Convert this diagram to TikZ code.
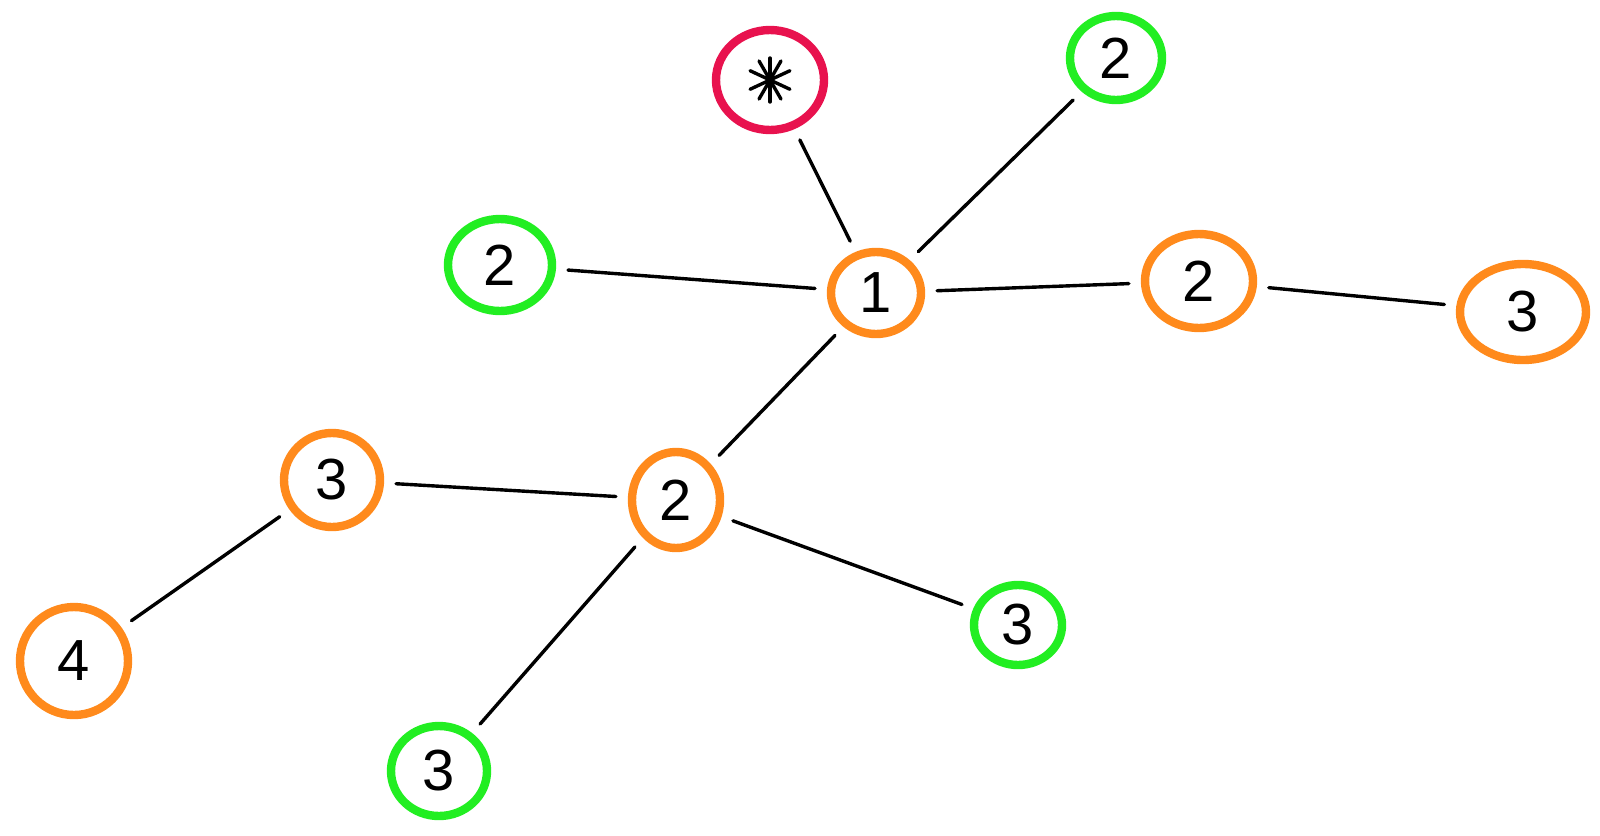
\documentclass[tikz,border=0pt]{standalone}
\usepackage{fontspec}
\setmainfont{Liberation Sans}
\usetikzlibrary{shapes.geometric}
\definecolor{orng}{HTML}{FF8A1C}
\definecolor{grn}{HTML}{22EE22}
\definecolor{redc}{HTML}{E8124E}
\begin{document}
\begin{tikzpicture}[x=0.5pt,y=-0.5pt,
  vtx/.style={ellipse,draw,line width=4.2pt,inner sep=0pt,font=\fontsize{29}{29}\selectfont},
  og/.style={vtx,draw=orng},
  gn/.style={vtx,draw=grn},
  rd/.style={vtx,draw=redc},
  starline/.style={line width=1.7pt,line cap=round,black},
  edge/.style={line width=1.7pt,line cap=round,black,shorten <=6pt,shorten >=6pt}]
\useasboundingbox (0,0) rectangle (1600,835);
\node[rd,minimum width=54pt,minimum height=50pt] (s) at (770,80) {};
\foreach \a in {90,25,155,60,120} {
  \draw[starline] ([shift={(\a:11pt)}]s.center) -- ([shift={(\a+180:11pt)}]s.center);
}
\node[gn,minimum width=46pt,minimum height=42pt] (g1) at (1116,58) {2};
\node[gn,minimum width=52pt,minimum height=46pt] (g2) at (500,265) {2};
\node[og,minimum width=45pt,minimum height=41pt] (o1) at (876,293) {1};
\node[og,minimum width=54pt,minimum height=47pt] (o2) at (1199,281) {2};
\node[og,minimum width=63pt,minimum height=48pt] (o3) at (1523,312) {3};
\node[og,minimum width=48pt,minimum height=47pt] (o4) at (332,480) {3};
\node[og,minimum width=44pt,minimum height=48pt] (o5) at (676,500) {2};
\node[og,minimum width=54pt,minimum height=54pt] (o6) at (74,661) {4};
\node[gn,minimum width=48pt,minimum height=45pt] (g3) at (439,771) {3};
\node[gn,minimum width=44pt,minimum height=40pt] (g4) at (1018,625) {3};
\draw[edge] (s) -- (o1);
\draw[edge] (g1) -- (o1);
\draw[edge] (g2) -- (o1);
\draw[edge] (o1) -- (o2);
\draw[edge] (o2) -- (o3);
\draw[edge] (o1) -- (o5);
\draw[edge] (o4) -- (o5);
\draw[edge] (o5) -- (g4);
\draw[edge] (o5) -- (g3);
\draw[edge] (o4) -- (o6);
\end{tikzpicture}
\end{document}
